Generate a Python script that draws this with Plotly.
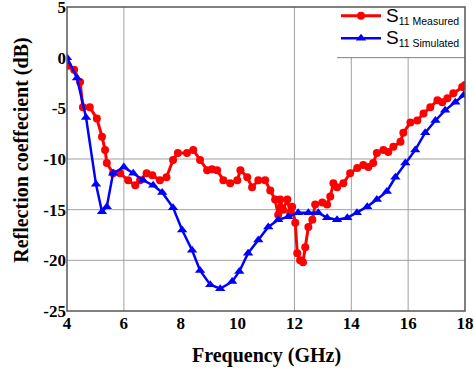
import plotly.graph_objects as go

# Simulated S11 (blue, triangles)
sim_freq = [4.0, 4.35, 4.67, 5.02, 5.23, 5.4, 5.62, 6.0, 6.33, 6.68, 7.03, 7.35, 7.73, 8.05,
            8.4, 8.68, 9.04, 9.39, 9.81, 10.06, 10.37, 10.73, 11.08, 11.43, 11.78, 12.13,
            12.49, 12.84, 13.15, 13.5, 13.86, 14.2, 14.56, 14.9, 15.25, 15.55, 15.9, 16.25,
            16.6, 16.96, 17.3, 17.66, 17.95]
sim_db = [0.0, -2.0, -5.9, -12.5, -15.2, -14.7, -11.4, -10.8, -11.4, -12.1, -12.6, -13.3, -14.8,
          -17.0, -19.0, -21.0, -22.4, -22.8, -22.1, -21.1, -19.3, -18.0, -16.7, -16.0, -15.7,
          -15.3, -15.3, -15.3, -15.8, -16.0, -15.8, -15.3, -14.7, -14.0, -13.2, -11.8, -10.4,
          -9.1, -7.4, -6.2, -5.2, -4.4, -3.7]

# Measured S11 (red, circles)
meas_freq = [4.03, 4.25, 4.46, 4.56, 4.8, 5.05, 5.23, 5.34, 5.4, 5.62, 5.87, 6.15, 6.4, 6.57,
             6.8, 7.0, 7.27, 7.5, 7.73, 7.9, 8.22, 8.44, 8.68, 8.93, 9.1, 9.28, 9.5, 9.74,
             9.99, 10.1, 10.34, 10.51, 10.73, 10.97, 11.15, 11.32, 11.43, 11.5, 11.6, 11.75,
             11.85, 11.92, 12.03, 12.1, 12.2, 12.3, 12.38, 12.49, 12.63, 12.73, 12.98, 13.15,
             13.26, 13.37, 13.5, 13.72, 13.96, 14.21, 14.42, 14.6, 14.77, 14.9, 15.13, 15.3,
             15.48, 15.73, 15.83, 16.08, 16.32, 16.54, 16.78, 17.03, 17.2, 17.38, 17.59, 17.9,
             18.0]
meas_db = [-0.8, -1.2, -2.4, -4.9, -4.9, -6.0, -7.8, -9.1, -10.4, -11.4, -11.4, -12.1, -12.6,
           -12.1, -11.4, -11.6, -12.1, -11.8, -10.1, -9.4, -9.4, -9.1, -10.1, -11.1, -11.0,
           -11.1, -12.1, -12.4, -12.1, -11.1, -11.8, -12.8, -12.1, -12.1, -13.1, -14.0, -15.5,
           -14.0, -15.0, -14.0, -15.3, -14.7, -16.3, -19.3, -20.0, -20.2, -18.7, -16.7, -16.0,
           -14.5, -14.3, -14.5, -13.7, -12.4, -12.8, -12.4, -11.4, -10.9, -10.6, -10.8, -10.4,
           -9.4, -9.1, -9.3, -8.8, -8.3, -7.4, -6.4, -6.2, -5.5, -4.9, -4.2, -4.4, -4.0, -3.5,
           -2.9, -2.7]

x_ticks = [4, 6, 8, 10, 12, 14, 16, 18]
y_ticks = [5, 0, -5, -10, -15, -20, -25]
vgrid_full = [6, 12]
vgrid_below_legend = [14, 16]
hgrid = [-10, -15, -20]

SERIF = "Liberation Serif, Times New Roman, serif"

fig = go.Figure()
fig.add_trace(go.Scatter(
    x=meas_freq, y=meas_db, mode="lines+markers",
    name="<span style='font-size:19px'>S</span><sub>11 Measured</sub>",
    line=dict(color="#ff0000", width=3),
    marker=dict(symbol="circle", size=8, color="#ff0000"),
))
fig.add_trace(go.Scatter(
    x=sim_freq, y=sim_db, mode="lines+markers",
    name="<span style='font-size:19px'>S</span><sub>11 Simulated</sub>",
    line=dict(color="#0000ff", width=2.5),
    marker=dict(symbol="triangle-up", size=9, color="#0000ff"),
))

shapes = []
for v in vgrid_full:
    shapes.append(dict(type="line", xref="x", yref="y", x0=v, x1=v, y0=-25, y1=5,
                       line=dict(color="#a0a0a0", width=1), layer="below"))
for v in vgrid_below_legend:
    shapes.append(dict(type="line", xref="x", yref="y", x0=v, x1=v, y0=-25, y1=0,
                       line=dict(color="#a0a0a0", width=1), layer="below"))
for h in hgrid:
    shapes.append(dict(type="line", xref="x", yref="y", x0=4, x1=18, y0=h, y1=h,
                       line=dict(color="#a0a0a0", width=1), layer="below"))
# legend box bottom edge
shapes.append(dict(type="line", xref="x", yref="y", x0=13.5, x1=18, y0=0, y1=0,
                   line=dict(color="#808080", width=1)))
# plot frame
shapes.append(dict(type="rect", xref="paper", yref="paper", x0=0, x1=1, y0=0, y1=1,
                   line=dict(color="#555555", width=1.5)))

annotations = [
    dict(text="<b>Frequency (GHz)</b>", xref="paper", yref="paper", x=0.5, y=-0.145,
         xanchor="center", yanchor="middle", showarrow=False,
         font=dict(family=SERIF, size=20, color="black")),
    dict(text="<b>Reflection coeffecient (dB)</b>", xref="paper", yref="paper",
         x=-0.113, y=0.527, xanchor="center", yanchor="middle", showarrow=False,
         textangle=-90, font=dict(family=SERIF, size=20, color="black")),
]

fig.update_layout(
    width=474, height=389,
    margin=dict(l=67, r=9, t=7, b=78, autoexpand=False),
    paper_bgcolor="white", plot_bgcolor="white",
    shapes=shapes,
    annotations=annotations,
    showlegend=True,
    legend=dict(x=1, y=1.025, xanchor="right", yanchor="top",
                bgcolor="rgba(0,0,0,0)", borderwidth=0,
                font=dict(family="Liberation Sans, Arial", size=15, color="black"),
                tracegroupgap=0, itemwidth=40),
    xaxis=dict(range=[4, 18], tickvals=x_ticks, ticktext=[f"<b>{t}</b>" for t in x_ticks],
               showgrid=False, zeroline=False, showline=False, ticks="",
               ticklabeloverflow="allow",
               tickfont=dict(family=SERIF, size=17, color="black")),
    yaxis=dict(range=[-25, 5], tickvals=y_ticks, ticktext=[f"<b>{t}</b>" for t in y_ticks],
               showgrid=False, zeroline=False, showline=False, ticks="",
               ticklabeloverflow="allow",
               tickfont=dict(family=SERIF, size=17, color="black")),
)

fig.write_html("out.html", config={"displayModeBar": False},
               post_script="document.body.style.margin='0';")
